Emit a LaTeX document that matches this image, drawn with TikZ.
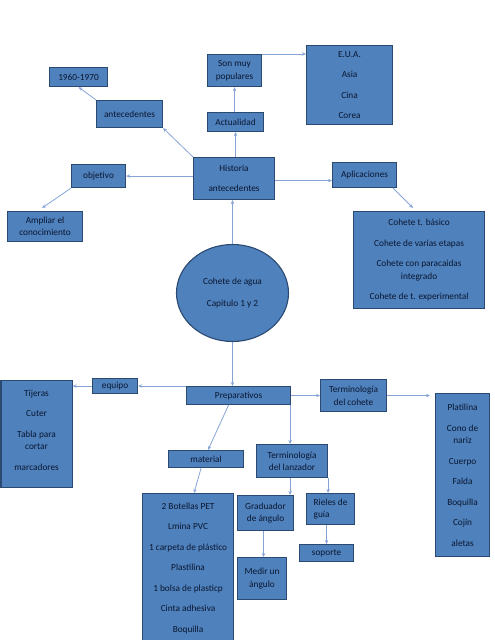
\documentclass[tikz,border=0pt]{standalone}
\usepackage{fontspec}
\setmainfont{Carlito}
\usetikzlibrary{arrows.meta,calc,shapes.geometric}
\definecolor{boxfill}{HTML}{4F81BD}
\definecolor{boxline}{HTML}{2A4A72}
\definecolor{txt}{HTML}{0A1730}
\definecolor{conn}{HTML}{86A5D6}
\tikzset{
  box/.style={draw=boxline, fill=boxfill, line width=1.1pt, inner sep=1pt,
    align=center, text=txt, font=\fontsize{9.3}{12.5}\selectfont, anchor=north west},
  oval/.style={ellipse, draw=boxline, fill=boxfill, line width=1.1pt, inner sep=0pt,
    align=center, text=txt, font=\fontsize{9.3}{12.5}\selectfont},
  link/.style={draw=conn, line width=0.8pt, -{Stealth[length=4pt,width=3.5pt]}}
}
\begin{document}
\begin{tikzpicture}[x=1pt,y=-1pt]
\useasboundingbox (0,0) rectangle (495,640);
% top half
\node[box, minimum width=58pt, minimum height=19pt] (n1960) at (49,67) {1960-1970};
\node[box, minimum width=66pt, minimum height=27pt] (ante) at (96,100) {antecedentes};
\node[box, minimum width=54pt, minimum height=32pt] (sonmuy) at (207,54) {Son muy\\populares};
\node[box, minimum width=86pt, minimum height=79pt] (eua) at (306,45) {E.U.A.\\[8pt]Asia\\[8pt]Cina\\[8pt]Corea};
\node[box, minimum width=56pt, minimum height=19pt] (actual) at (207,112) {Actualidad};
\node[box, minimum width=81pt, minimum height=42pt] (hist) at (193,157) {Historia\\[8pt]antecedentes};
\node[box, minimum width=54pt, minimum height=23pt] (objet) at (71,164) {objetivo};
\node[box, minimum width=75pt, minimum height=30pt] (ampliar) at (7,211) {Ampliar el\\conocimiento};
\node[box, minimum width=64pt, minimum height=25pt] (aplic) at (332,162) {Aplicaciones};
\node[box, minimum width=131pt, minimum height=97pt] (cohetes) at (353,211) {Cohete t. básico\\[8pt]Cohete de varias etapas\\[8pt]Cohete con paracaidas\\integrado\\[8pt]Cohete de t. experimental};
\node[oval, minimum width=112pt, minimum height=97pt] (circ) at (232.5,293) {Cohete de agua\\[10pt]Capitulo 1 y 2};
% bottom half
\node[box, minimum width=104pt, minimum height=18pt] (prep) at (186,386) {Preparativos};
\node[box, minimum width=45pt, minimum height=15pt] (equipo) at (92,378) {equipo};
\node[box, minimum width=71pt, minimum height=107pt] (tijeras) at (0.5,380) {Tijeras\\[8pt]Cuter\\[8pt]Tabla para\\cortar\\[8pt]marcadores\\[-4pt]\mbox{}};
\node[box, minimum width=75pt, minimum height=17pt] (material) at (168,450) {material};
\node[box, minimum width=66pt, minimum height=32pt] (termcoh) at (320,379) {Terminología\\del cohete};
\node[box, minimum width=54pt, minimum height=163pt] (platil) at (435,393) {Platilina\\[8pt]Cono de\\nariz\\[8pt]Cuerpo\\[8pt]Falda\\[8pt]Boquilla\\[8pt]Cojín\\[8pt]aletas};
\node[box, minimum width=71pt, minimum height=33pt] (lanz) at (256,444) {Terminología\\del lanzador};
\node[box, minimum width=56pt, minimum height=35pt] (grad) at (237,495) {Graduador\\de ángulo};
\node[box, minimum width=48pt, minimum height=31pt, align=left] (rieles) at (306,493) {Rieles de\\guía};
\node[box, minimum width=54pt, minimum height=17pt] (soporte) at (299,544) {soporte};
\node[box, minimum width=49pt, minimum height=42pt] (medir) at (237,557) {Medir un\\ángulo};
\node[box, minimum width=91pt, minimum height=149pt] (botellas) at (142,493) {2 Botellas PET\\[8pt]Lmina PVC\\[8pt]1 carpeta de plástico\\[8pt]Plastilina\\[8pt]1 bolsa de plasticp\\[8pt]Cinta adhesiva\\[8pt]Boquilla};
% connectors
\draw[link] (hist.north west) -- (ante.south east);
\draw[link] (ante.north west) -- (n1960.south);
\draw[link] (hist.west |- objet.east) -- (objet.east);
\draw[link] (objet.south west) -- ($(ampliar.north)+(-3,-3)$);
\draw[link] (hist.north -| actual.south) -- (actual.south);
\draw[link] (actual.north -| sonmuy.south) -- (sonmuy.south);
\draw[link] (sonmuy.north east) -- (eua.west |- sonmuy.north east);
\draw[link] ($(hist.east)+(0,2)$) -- ($(aplic.west |- hist.east)+(0,2)$);
\draw[link] ($(aplic.south east)+(-4,0)$) -- ($(cohetes.north)+(-6,-3)$);
\draw[link] (circ.north) -- (circ.north |- hist.south);
\draw[link] (circ.south) -- (circ.south |- prep.north);
\draw[link] (prep.north west) -- (equipo.east |- prep.north west);
\draw[link] (equipo.west) -- (tijeras.east |- equipo.west);
\draw[link] ($(prep.south)+(-10,0)$) -- ($(material.north)+(2,0)$);
\draw[link] (prep.east) -- (termcoh.west |- prep.east);
\draw[link, shorten >=5pt] (termcoh.east) -- (platil.west |- termcoh.east);
\draw[link] ($(prep.south east)+(-1,0)$) -- ($(lanz.north -| prep.south east)+(-1,0)$);
\draw[link] ($(lanz.south east)+(-38,0)$) -- ($(grad.north -| lanz.south east)+(-38,0)$);
\draw[link] (lanz.south east) -- (lanz.south east |- rieles.north);
\draw[link] ($(grad.south)+(-2,0)$) -- ($(medir.north -| grad.south)+(-2,0)$);
\draw[link] (soporte.north |- rieles.south) -- (soporte.north);
\draw[link] ($(material.south)+(-5,0)$) -- ($(botellas.north)+(6,0)$);
\end{tikzpicture}
\end{document}
